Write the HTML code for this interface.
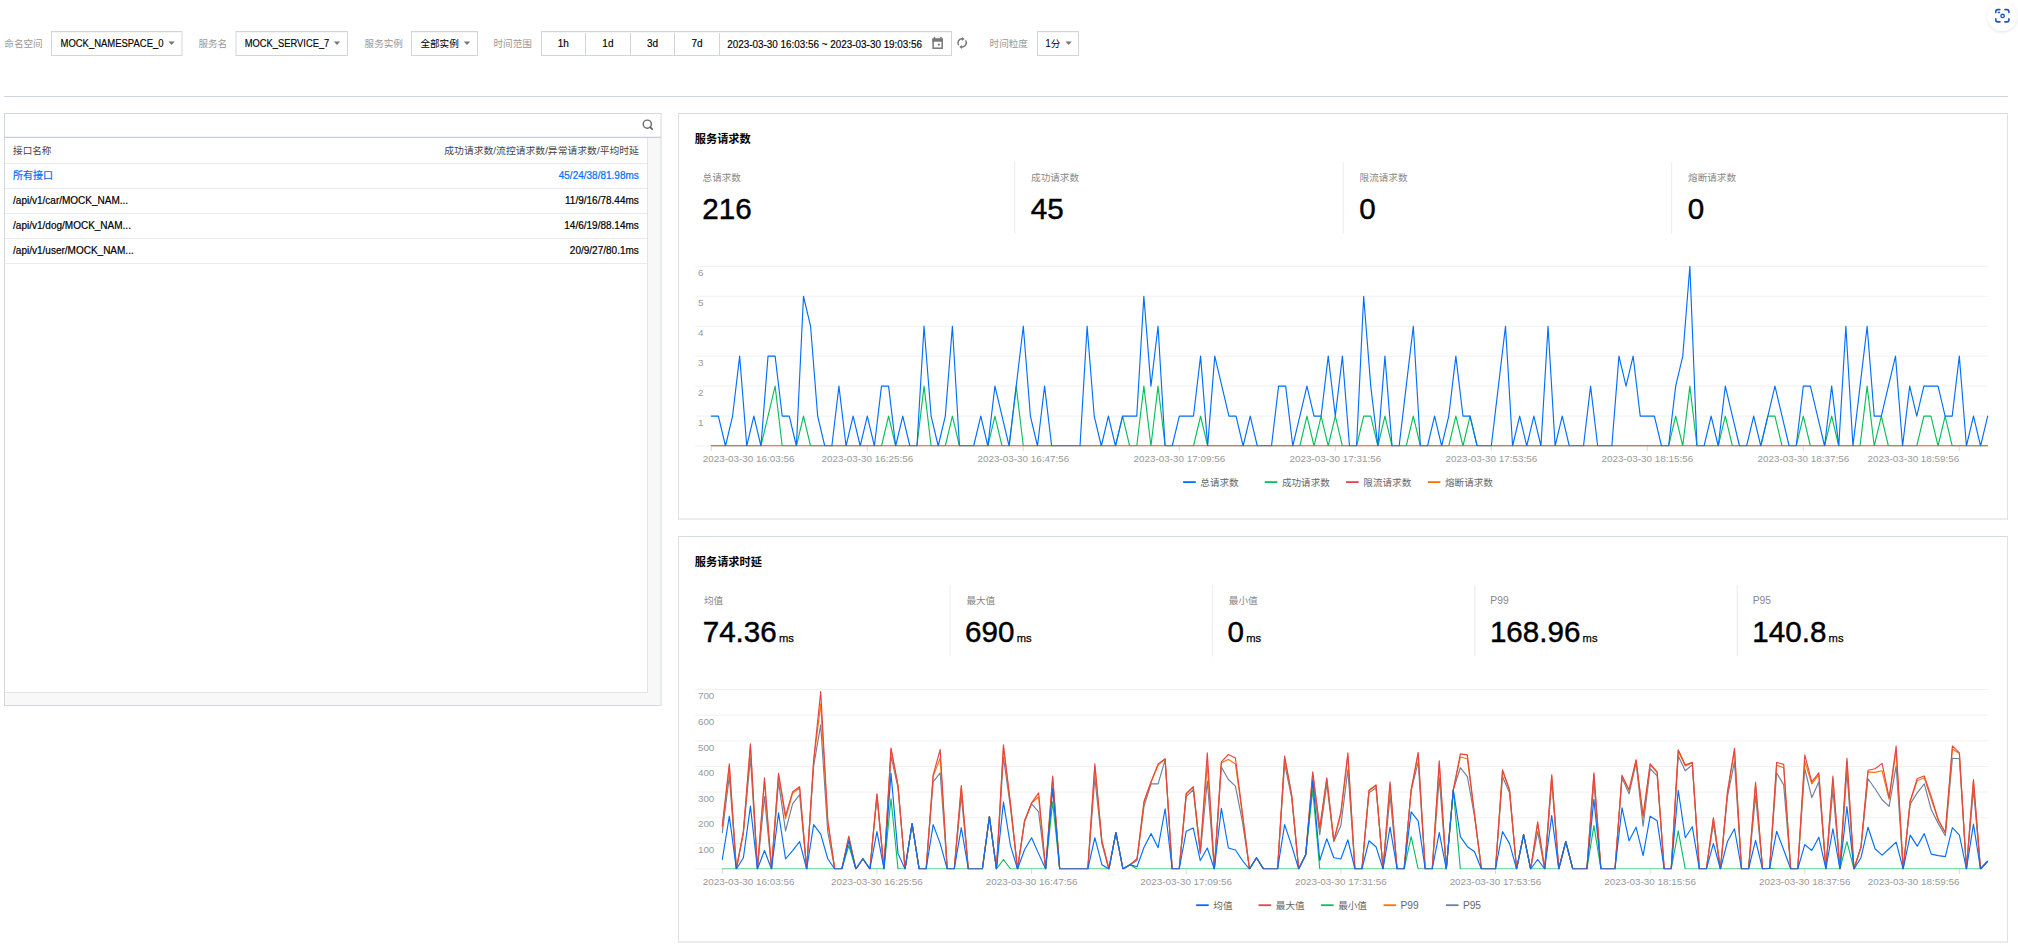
<!DOCTYPE html>
<html lang="zh-CN"><head><meta charset="utf-8"><title>服务监控</title>
<style>
html,body{margin:0;padding:0;background:#fff;}
body{width:2018px;height:952px;overflow:hidden;position:relative;font-family:"Liberation Sans", "Noto Sans CJK SC", sans-serif;}
svg text{font-family:"Liberation Sans", "Noto Sans CJK SC", sans-serif;}
</style></head><body>
<svg width="2018" height="952" viewBox="0 0 2018 952" style="position:absolute;left:0;top:0"><defs><filter id="sh" x="-50%" y="-50%" width="200%" height="200%"><feDropShadow dx="0" dy="1" stdDeviation="1.6" flood-color="#000" flood-opacity="0.13"/></filter></defs><text x="4.3" y="47.0" style="font-size:9.6px;fill:#999;">命名空间</text>
<rect x="51.5" y="31.5" width="130.5" height="24.0" fill="#fff" stroke="#cfd5de" stroke-width="1"/>
<text x="60.5" y="46.5" textLength="103.0" lengthAdjust="spacingAndGlyphs" style="font-size:10px;fill:#000;" stroke="#000" stroke-width="0.15">MOCK_NAMESPACE_0</text>
<path d="M168.4,41.6 L174.79999999999998,41.6 L171.6,45.0 Z" fill="#777"/>
<text x="198.4" y="47.0" style="font-size:9.6px;fill:#999;">服务名</text>
<rect x="236.0" y="31.5" width="111.5" height="24.0" fill="#fff" stroke="#cfd5de" stroke-width="1"/>
<text x="244.7" y="46.5" textLength="84.6" lengthAdjust="spacingAndGlyphs" style="font-size:10px;fill:#000;" stroke="#000" stroke-width="0.15">MOCK_SERVICE_7</text>
<path d="M333.8,41.6 L340.2,41.6 L337.0,45.0 Z" fill="#777"/>
<text x="364.6" y="47.0" style="font-size:9.6px;fill:#999;">服务实例</text>
<rect x="411.5" y="31.5" width="66.0" height="24.0" fill="#fff" stroke="#cfd5de" stroke-width="1"/>
<text x="420.4" y="47.0" style="font-size:9.6px;fill:#000;">全部实例</text>
<path d="M463.8,41.6 L470.2,41.6 L467.0,45.0 Z" fill="#777"/>
<text x="493.5" y="47.0" style="font-size:9.6px;fill:#999;">时间范围</text>
<rect x="541.5" y="31.5" width="410.0" height="24.0" fill="#fff" stroke="#cfd5de" stroke-width="1"/>
<line x1="585.5" y1="31.5" x2="585.5" y2="55.5" stroke="#cfd5de" stroke-width="1"/>
<line x1="630.5" y1="31.5" x2="630.5" y2="55.5" stroke="#cfd5de" stroke-width="1"/>
<line x1="674.5" y1="31.5" x2="674.5" y2="55.5" stroke="#cfd5de" stroke-width="1"/>
<line x1="719.5" y1="31.5" x2="719.5" y2="55.5" stroke="#cfd5de" stroke-width="1"/>
<text x="563.3" y="46.5" text-anchor="middle" style="font-size:10px;fill:#000;" stroke="#000" stroke-width="0.15">1h</text>
<text x="607.9" y="46.5" text-anchor="middle" style="font-size:10px;fill:#000;" stroke="#000" stroke-width="0.15">1d</text>
<text x="652.5" y="46.5" text-anchor="middle" style="font-size:10px;fill:#000;" stroke="#000" stroke-width="0.15">3d</text>
<text x="697.0" y="46.5" text-anchor="middle" style="font-size:10px;fill:#000;" stroke="#000" stroke-width="0.15">7d</text>
<text x="727.3" y="47.5" textLength="194.8" lengthAdjust="spacingAndGlyphs" style="font-size:10px;fill:#000;" stroke="#000" stroke-width="0.15">2023-03-30 16:03:56 ~ 2023-03-30 19:03:56</text>
<g fill="none" stroke="#777" stroke-width="1.5"><rect x="933.1" y="39.2" width="9.1" height="9.0"/></g><rect x="932.4" y="38.5" width="10.5" height="3.2" fill="#777"/><rect x="933.7" y="36.8" width="1.5" height="2" fill="#777"/><rect x="940.2" y="36.8" width="1.5" height="2" fill="#777"/><circle cx="938.9" cy="44.6" r="1.05" fill="#777"/>
<g fill="none" stroke="#777" stroke-width="1.5"><path d="M958.6,45.2 A4.2,4.2 0 0 1 962.3,38.8"/><path d="M965.6,40.4 A4.2,4.2 0 0 1 961.7,46.9"/></g><path d="M962.0,36.9 L964.6,38.9 L962.0,40.9 Z" fill="#777"/><path d="M962.0,44.9 L959.4,46.9 L962.0,48.9 Z" fill="#777"/>
<text x="989.6" y="47.0" style="font-size:9.6px;fill:#999;">时间粒度</text>
<rect x="1037.5" y="31.5" width="41.0" height="24.0" fill="#fff" stroke="#cfd5de" stroke-width="1"/>
<text x="1045.2" y="46.9" style="font-size:9.6px;fill:#000"><tspan style="font-size:10px">1</tspan>分</text>
<path d="M1065.3999999999999,41.6 L1071.8,41.6 L1068.6,45.0 Z" fill="#777"/>
<line x1="52" y1="32.5" x2="182" y2="32.5" stroke="#f4f5f7" stroke-width="1"/>
<line x1="236.5" y1="32.5" x2="347.5" y2="32.5" stroke="#f4f5f7" stroke-width="1"/>
<line x1="412" y1="32.5" x2="477" y2="32.5" stroke="#f4f5f7" stroke-width="1"/>
<line x1="542" y1="32.5" x2="951" y2="32.5" stroke="#f4f5f7" stroke-width="1"/>
<line x1="1038" y1="32.5" x2="1078" y2="32.5" stroke="#f4f5f7" stroke-width="1"/>
<line x1="4" y1="96.5" x2="2008" y2="96.5" stroke="#cfd5de" stroke-width="1"/>
<circle cx="2002.2" cy="16.4" r="14.6" fill="#fff" filter="url(#sh)"/>
<g fill="none" stroke="#1f55c2" stroke-width="1.6" stroke-linecap="round"><path d="M1995.8,12.6 V11.5 Q1995.8,9.6 1997.7,9.6 H1999.9"/><path d="M2004.9,9.6 H2007.0 Q2008.9,9.6 2008.9,11.5 V12.6"/><path d="M1995.8,18.9 V20.0 Q1995.8,21.9 1997.7,21.9 H1999.9"/><path d="M2004.9,21.9 H2007.0 Q2008.9,21.9 2008.9,20.0 V18.9"/><path d="M1998.4,12.5 H1999.4"/><circle cx="2002.6" cy="15.9" r="1.7" stroke-width="1.4"/></g>
<rect x="4.5" y="113.5" width="656.5" height="592.0" fill="#fff"/>
<rect x="647.5" y="138" width="13" height="567.5" fill="#f8f8f8"/>
<rect x="5" y="692.5" width="655.5" height="12.5" fill="#f8f8f8"/>
<line x1="647.5" y1="138" x2="647.5" y2="693" stroke="#e4e4e4" stroke-width="1"/>
<line x1="5" y1="692.5" x2="647.5" y2="692.5" stroke="#e4e4e4" stroke-width="1"/>
<rect x="4.5" y="113.5" width="656.5" height="592.0" fill="none" stroke="#d3d8e0" stroke-width="1"/>
<line x1="4.5" y1="137.4" x2="661" y2="137.4" stroke="#c6ccd6" stroke-width="1.2"/>
<g fill="none" stroke="#6b6b6b" stroke-width="1.45"><circle cx="647.3" cy="124.2" r="4.05"/><path d="M650.2,127.1 L652.2,129.1" stroke-linecap="round" stroke-width="1.9"/></g>
<line x1="5" y1="163.5" x2="647" y2="163.5" stroke="#e8ebf0" stroke-width="1"/>
<line x1="5" y1="188.5" x2="647" y2="188.5" stroke="#e8ebf0" stroke-width="1"/>
<line x1="5" y1="213.5" x2="647" y2="213.5" stroke="#e8ebf0" stroke-width="1"/>
<line x1="5" y1="238.5" x2="647" y2="238.5" stroke="#e8ebf0" stroke-width="1"/>
<line x1="5" y1="263.5" x2="647" y2="263.5" stroke="#e8ebf0" stroke-width="1"/>
<text x="13.1" y="154.0" style="font-size:9.6px;fill:#444;">接口名称</text>
<text x="444.3" y="154.0" textLength="194.6" lengthAdjust="spacingAndGlyphs" style="font-size:9.6px;fill:#444;">成功请求数/流控请求数/异常请求数/平均时延</text>
<text x="13.1" y="179.0" style="font-size:10px;fill:#006eff;" stroke="#006eff" stroke-width="0.2">所有接口</text>
<text x="638.8" y="179.0" text-anchor="end" style="font-size:10px;fill:#006eff;" stroke="#006eff" stroke-width="0.2">45/24/38/81.98ms</text>
<text x="13.1" y="204.0" style="font-size:10px;fill:#000;" stroke="#000" stroke-width="0.2">/api/v1/car/MOCK_NAM...</text>
<text x="638.8" y="204.0" text-anchor="end" style="font-size:10px;fill:#000;" stroke="#000" stroke-width="0.2">11/9/16/78.44ms</text>
<text x="13.1" y="229.0" style="font-size:10px;fill:#000;" stroke="#000" stroke-width="0.2">/api/v1/dog/MOCK_NAM...</text>
<text x="638.8" y="229.0" text-anchor="end" style="font-size:10px;fill:#000;" stroke="#000" stroke-width="0.2">14/6/19/88.14ms</text>
<text x="13.1" y="254.0" style="font-size:10px;fill:#000;" stroke="#000" stroke-width="0.2">/api/v1/user/MOCK_NAM...</text>
<text x="638.8" y="254.0" text-anchor="end" style="font-size:10px;fill:#000;" stroke="#000" stroke-width="0.2">20/9/27/80.1ms</text>
<rect x="678.5" y="113.5" width="1329" height="405.5" fill="#fff"/>
<line x1="678" y1="113.5" x2="2008" y2="113.5" stroke="#d5dae3" stroke-width="1"/>
<line x1="678" y1="519" x2="2008" y2="519" stroke="#d5dae3" stroke-width="1"/>
<line x1="678.5" y1="113" x2="678.5" y2="519.5" stroke="#dee2e8" stroke-width="1"/>
<line x1="2007.5" y1="113" x2="2007.5" y2="519.5" stroke="#dee2e8" stroke-width="1"/>
<rect x="678.5" y="536.5" width="1329" height="405.5" fill="#fff"/>
<line x1="678" y1="536.5" x2="2008" y2="536.5" stroke="#d5dae3" stroke-width="1"/>
<line x1="678" y1="942" x2="2008" y2="942" stroke="#d5dae3" stroke-width="1"/>
<line x1="678.5" y1="536" x2="678.5" y2="942.5" stroke="#dee2e8" stroke-width="1"/>
<line x1="2007.5" y1="536" x2="2007.5" y2="942.5" stroke="#dee2e8" stroke-width="1"/>
<text x="694.8" y="143.3" style="font-size:11.2px;fill:#000;font-weight:bold;">服务请求数</text>
<text x="702.6" y="181.3" style="font-size:9.6px;fill:#888;">总请求数</text>
<text x="702.3000000000001" y="219.0" style="font-size:29.6px;fill:#000;" stroke="#000" stroke-width="0.45">216</text>
<line x1="1014.7" y1="162" x2="1014.7" y2="233.5" stroke="#e9ecf2" stroke-width="1"/>
<text x="1031.1000000000001" y="181.3" style="font-size:9.6px;fill:#888;">成功请求数</text>
<text x="1030.8000000000002" y="219.0" style="font-size:29.6px;fill:#000;" stroke="#000" stroke-width="0.45">45</text>
<line x1="1343.2" y1="162" x2="1343.2" y2="233.5" stroke="#e9ecf2" stroke-width="1"/>
<text x="1359.6000000000001" y="181.3" style="font-size:9.6px;fill:#888;">限流请求数</text>
<text x="1359.3000000000002" y="219.0" style="font-size:29.6px;fill:#000;" stroke="#000" stroke-width="0.45">0</text>
<line x1="1671.7" y1="162" x2="1671.7" y2="233.5" stroke="#e9ecf2" stroke-width="1"/>
<text x="1688.1000000000001" y="181.3" style="font-size:9.6px;fill:#888;">熔断请求数</text>
<text x="1687.8000000000002" y="219.0" style="font-size:29.6px;fill:#000;" stroke="#000" stroke-width="0.45">0</text>
<text x="694.8" y="566.3" style="font-size:11.2px;fill:#000;font-weight:bold;">服务请求时延</text>
<text x="704.0" y="604.3" style="font-size:9.6px;fill:#888;">均值</text>
<text x="702.70" y="642.00" style="font-size:29.6px;fill:#000;stroke:#000;stroke-width:0.45px">74.36<tspan dx="2.2" style="font-size:11.2px;stroke-width:0.25px">ms</tspan></text>
<line x1="950.0" y1="585" x2="950.0" y2="656.5" stroke="#e9ecf2" stroke-width="1"/>
<text x="966.4" y="604.3" style="font-size:9.6px;fill:#888;">最大值</text>
<text x="965.10" y="642.00" style="font-size:29.6px;fill:#000;stroke:#000;stroke-width:0.45px">690<tspan dx="2.2" style="font-size:11.2px;stroke-width:0.25px">ms</tspan></text>
<line x1="1212.4" y1="585" x2="1212.4" y2="656.5" stroke="#e9ecf2" stroke-width="1"/>
<text x="1228.8000000000002" y="604.3" style="font-size:9.6px;fill:#888;">最小值</text>
<text x="1227.50" y="642.00" style="font-size:29.6px;fill:#000;stroke:#000;stroke-width:0.45px">0<tspan dx="2.2" style="font-size:11.2px;stroke-width:0.25px">ms</tspan></text>
<line x1="1474.8" y1="585" x2="1474.8" y2="656.5" stroke="#e9ecf2" stroke-width="1"/>
<text x="1490.3" y="604.3" style="font-size:10.3px;fill:#888;">P99</text>
<text x="1489.90" y="642.00" style="font-size:29.6px;fill:#000;stroke:#000;stroke-width:0.45px">168.96<tspan dx="2.2" style="font-size:11.2px;stroke-width:0.25px">ms</tspan></text>
<line x1="1737.1999999999998" y1="585" x2="1737.1999999999998" y2="656.5" stroke="#e9ecf2" stroke-width="1"/>
<text x="1752.6999999999998" y="604.3" style="font-size:10.3px;fill:#888;">P95</text>
<text x="1752.30" y="642.00" style="font-size:29.6px;fill:#000;stroke:#000;stroke-width:0.45px">140.8<tspan dx="2.2" style="font-size:11.2px;stroke-width:0.25px">ms</tspan></text>
<line x1="695" y1="446.0" x2="1987.68" y2="446.0" stroke="#f1f1f1" stroke-width="1"/>
<line x1="695" y1="416.05" x2="1987.68" y2="416.05" stroke="#f1f1f1" stroke-width="1"/>
<text x="697.9" y="425.75" style="font-size:9.9px;fill:#999;">1</text>
<line x1="695" y1="386.1" x2="1987.68" y2="386.1" stroke="#f1f1f1" stroke-width="1"/>
<text x="697.9" y="395.8" style="font-size:9.9px;fill:#999;">2</text>
<line x1="695" y1="356.15" x2="1987.68" y2="356.15" stroke="#f1f1f1" stroke-width="1"/>
<text x="697.9" y="365.84999999999997" style="font-size:9.9px;fill:#999;">3</text>
<line x1="695" y1="326.2" x2="1987.68" y2="326.2" stroke="#f1f1f1" stroke-width="1"/>
<text x="697.9" y="335.9" style="font-size:9.9px;fill:#999;">4</text>
<line x1="695" y1="296.25" x2="1987.68" y2="296.25" stroke="#f1f1f1" stroke-width="1"/>
<text x="697.9" y="305.95" style="font-size:9.9px;fill:#999;">5</text>
<line x1="695" y1="266.3" x2="1987.68" y2="266.3" stroke="#f1f1f1" stroke-width="1"/>
<text x="697.9" y="276.0" style="font-size:9.9px;fill:#999;">6</text>
<line x1="711.3" y1="446.0" x2="711.3" y2="451.0" stroke="#ddd" stroke-width="1"/>
<line x1="867.3019999999999" y1="446.0" x2="867.3019999999999" y2="451.0" stroke="#ddd" stroke-width="1"/>
<line x1="1023.304" y1="446.0" x2="1023.304" y2="451.0" stroke="#ddd" stroke-width="1"/>
<line x1="1179.306" y1="446.0" x2="1179.306" y2="451.0" stroke="#ddd" stroke-width="1"/>
<line x1="1335.308" y1="446.0" x2="1335.308" y2="451.0" stroke="#ddd" stroke-width="1"/>
<line x1="1491.31" y1="446.0" x2="1491.31" y2="451.0" stroke="#ddd" stroke-width="1"/>
<line x1="1647.312" y1="446.0" x2="1647.312" y2="451.0" stroke="#ddd" stroke-width="1"/>
<line x1="1803.314" y1="446.0" x2="1803.314" y2="451.0" stroke="#ddd" stroke-width="1"/>
<line x1="1959.316" y1="446.0" x2="1959.316" y2="451.0" stroke="#ddd" stroke-width="1"/>
<text x="702.8" y="462.3" style="font-size:9.9px;fill:#999;">2023-03-30 16:03:56</text>
<text x="867.3019999999999" y="462.3" text-anchor="middle" style="font-size:9.9px;fill:#999;">2023-03-30 16:25:56</text>
<text x="1023.304" y="462.3" text-anchor="middle" style="font-size:9.9px;fill:#999;">2023-03-30 16:47:56</text>
<text x="1179.306" y="462.3" text-anchor="middle" style="font-size:9.9px;fill:#999;">2023-03-30 17:09:56</text>
<text x="1335.308" y="462.3" text-anchor="middle" style="font-size:9.9px;fill:#999;">2023-03-30 17:31:56</text>
<text x="1491.31" y="462.3" text-anchor="middle" style="font-size:9.9px;fill:#999;">2023-03-30 17:53:56</text>
<text x="1647.312" y="462.3" text-anchor="middle" style="font-size:9.9px;fill:#999;">2023-03-30 18:15:56</text>
<text x="1803.314" y="462.3" text-anchor="middle" style="font-size:9.9px;fill:#999;">2023-03-30 18:37:56</text>
<text x="1959.316" y="462.3" text-anchor="end" style="font-size:9.9px;fill:#999;">2023-03-30 18:59:56</text>
<clipPath id="c446"><rect x="690" y="246.3" width="1310" height="199.95"/></clipPath>
<g clip-path="url(#c446)">
<polyline points="711.30,446.00 718.39,446.00 725.48,446.00 732.57,446.00 739.66,446.00 746.75,446.00 753.85,446.00 760.94,446.00 768.03,446.00 775.12,446.00 782.21,446.00 789.30,446.00 796.39,446.00 803.48,446.00 810.57,446.00 817.66,446.00 824.76,446.00 831.85,446.00 838.94,446.00 846.03,446.00 853.12,446.00 860.21,446.00 867.30,446.00 874.39,446.00 881.48,446.00 888.57,446.00 895.67,446.00 902.76,446.00 909.85,446.00 916.94,446.00 924.03,446.00 931.12,446.00 938.21,446.00 945.30,446.00 952.39,446.00 959.48,446.00 966.58,446.00 973.67,446.00 980.76,446.00 987.85,446.00 994.94,446.00 1002.03,446.00 1009.12,446.00 1016.21,446.00 1023.30,446.00 1030.39,446.00 1037.49,446.00 1044.58,446.00 1051.67,446.00 1058.76,446.00 1065.85,446.00 1072.94,446.00 1080.03,446.00 1087.12,446.00 1094.21,446.00 1101.30,446.00 1108.40,446.00 1115.49,446.00 1122.58,446.00 1129.67,446.00 1136.76,446.00 1143.85,446.00 1150.94,446.00 1158.03,446.00 1165.12,446.00 1172.21,446.00 1179.31,446.00 1186.40,446.00 1193.49,446.00 1200.58,446.00 1207.67,446.00 1214.76,446.00 1221.85,446.00 1228.94,446.00 1236.03,446.00 1243.12,446.00 1250.22,446.00 1257.31,446.00 1264.40,446.00 1271.49,446.00 1278.58,446.00 1285.67,446.00 1292.76,446.00 1299.85,446.00 1306.94,446.00 1314.03,446.00 1321.13,446.00 1328.22,446.00 1335.31,446.00 1342.40,446.00 1349.49,446.00 1356.58,446.00 1363.67,446.00 1370.76,446.00 1377.85,446.00 1384.94,446.00 1392.04,446.00 1399.13,446.00 1406.22,446.00 1413.31,446.00 1420.40,446.00 1427.49,446.00 1434.58,446.00 1441.67,446.00 1448.76,446.00 1455.86,446.00 1462.95,446.00 1470.04,446.00 1477.13,446.00 1484.22,446.00 1491.31,446.00 1498.40,446.00 1505.49,446.00 1512.58,446.00 1519.67,446.00 1526.76,446.00 1533.86,446.00 1540.95,446.00 1548.04,446.00 1555.13,446.00 1562.22,446.00 1569.31,446.00 1576.40,446.00 1583.49,446.00 1590.58,446.00 1597.67,446.00 1604.77,446.00 1611.86,446.00 1618.95,446.00 1626.04,446.00 1633.13,446.00 1640.22,446.00 1647.31,446.00 1654.40,446.00 1661.49,446.00 1668.59,446.00 1675.68,446.00 1682.77,446.00 1689.86,446.00 1696.95,446.00 1704.04,446.00 1711.13,446.00 1718.22,446.00 1725.31,446.00 1732.40,446.00 1739.49,446.00 1746.59,446.00 1753.68,446.00 1760.77,446.00 1767.86,446.00 1774.95,446.00 1782.04,446.00 1789.13,446.00 1796.22,446.00 1803.31,446.00 1810.40,446.00 1817.50,446.00 1824.59,446.00 1831.68,446.00 1838.77,446.00 1845.86,446.00 1852.95,446.00 1860.04,446.00 1867.13,446.00 1874.22,446.00 1881.32,446.00 1888.41,446.00 1895.50,446.00 1902.59,446.00 1909.68,446.00 1916.77,446.00 1923.86,446.00 1930.95,446.00 1938.04,446.00 1945.13,446.00 1952.22,446.00 1959.32,446.00 1966.41,446.00 1973.50,446.00 1980.59,446.00 1987.68,446.00" fill="none" stroke="#ff7200" stroke-width="1.15" stroke-linejoin="round" stroke-linecap="round"/>
<polyline points="711.30,446.00 718.39,446.00 725.48,446.00 732.57,446.00 739.66,446.00 746.75,446.00 753.85,446.00 760.94,446.00 768.03,446.00 775.12,446.00 782.21,446.00 789.30,446.00 796.39,446.00 803.48,446.00 810.57,446.00 817.66,446.00 824.76,446.00 831.85,446.00 838.94,446.00 846.03,446.00 853.12,446.00 860.21,446.00 867.30,446.00 874.39,446.00 881.48,446.00 888.57,446.00 895.67,446.00 902.76,446.00 909.85,446.00 916.94,446.00 924.03,446.00 931.12,446.00 938.21,446.00 945.30,446.00 952.39,446.00 959.48,446.00 966.58,446.00 973.67,446.00 980.76,446.00 987.85,446.00 994.94,446.00 1002.03,446.00 1009.12,446.00 1016.21,446.00 1023.30,446.00 1030.39,446.00 1037.49,446.00 1044.58,446.00 1051.67,446.00 1058.76,446.00 1065.85,446.00 1072.94,446.00 1080.03,446.00 1087.12,446.00 1094.21,446.00 1101.30,446.00 1108.40,446.00 1115.49,446.00 1122.58,446.00 1129.67,446.00 1136.76,446.00 1143.85,446.00 1150.94,446.00 1158.03,446.00 1165.12,446.00 1172.21,446.00 1179.31,446.00 1186.40,446.00 1193.49,446.00 1200.58,446.00 1207.67,446.00 1214.76,446.00 1221.85,446.00 1228.94,446.00 1236.03,446.00 1243.12,446.00 1250.22,446.00 1257.31,446.00 1264.40,446.00 1271.49,446.00 1278.58,446.00 1285.67,446.00 1292.76,446.00 1299.85,446.00 1306.94,446.00 1314.03,446.00 1321.13,446.00 1328.22,446.00 1335.31,446.00 1342.40,446.00 1349.49,446.00 1356.58,446.00 1363.67,446.00 1370.76,446.00 1377.85,446.00 1384.94,446.00 1392.04,446.00 1399.13,446.00 1406.22,446.00 1413.31,446.00 1420.40,446.00 1427.49,446.00 1434.58,446.00 1441.67,446.00 1448.76,446.00 1455.86,446.00 1462.95,446.00 1470.04,446.00 1477.13,446.00 1484.22,446.00 1491.31,446.00 1498.40,446.00 1505.49,446.00 1512.58,446.00 1519.67,446.00 1526.76,446.00 1533.86,446.00 1540.95,446.00 1548.04,446.00 1555.13,446.00 1562.22,446.00 1569.31,446.00 1576.40,446.00 1583.49,446.00 1590.58,446.00 1597.67,446.00 1604.77,446.00 1611.86,446.00 1618.95,446.00 1626.04,446.00 1633.13,446.00 1640.22,446.00 1647.31,446.00 1654.40,446.00 1661.49,446.00 1668.59,446.00 1675.68,446.00 1682.77,446.00 1689.86,446.00 1696.95,446.00 1704.04,446.00 1711.13,446.00 1718.22,446.00 1725.31,446.00 1732.40,446.00 1739.49,446.00 1746.59,446.00 1753.68,446.00 1760.77,446.00 1767.86,446.00 1774.95,446.00 1782.04,446.00 1789.13,446.00 1796.22,446.00 1803.31,446.00 1810.40,446.00 1817.50,446.00 1824.59,446.00 1831.68,446.00 1838.77,446.00 1845.86,446.00 1852.95,446.00 1860.04,446.00 1867.13,446.00 1874.22,446.00 1881.32,446.00 1888.41,446.00 1895.50,446.00 1902.59,446.00 1909.68,446.00 1916.77,446.00 1923.86,446.00 1930.95,446.00 1938.04,446.00 1945.13,446.00 1952.22,446.00 1959.32,446.00 1966.41,446.00 1973.50,446.00 1980.59,446.00 1987.68,446.00" fill="none" stroke="#e54545" stroke-width="1.15" stroke-linejoin="round" stroke-linecap="round"/>
<polyline points="711.30,446.00 718.39,446.00 725.48,446.00 732.57,446.00 739.66,446.00 746.75,446.00 753.85,446.00 760.94,446.00 768.03,416.05 775.12,386.10 782.21,446.00 789.30,446.00 796.39,446.00 803.48,416.05 810.57,446.00 817.66,446.00 824.76,446.00 831.85,446.00 838.94,446.00 846.03,446.00 853.12,446.00 860.21,446.00 867.30,446.00 874.39,446.00 881.48,446.00 888.57,416.05 895.67,446.00 902.76,446.00 909.85,446.00 916.94,446.00 924.03,386.10 931.12,446.00 938.21,446.00 945.30,446.00 952.39,416.05 959.48,446.00 966.58,446.00 973.67,446.00 980.76,446.00 987.85,446.00 994.94,416.05 1002.03,446.00 1009.12,446.00 1016.21,386.10 1023.30,446.00 1030.39,446.00 1037.49,446.00 1044.58,446.00 1051.67,446.00 1058.76,446.00 1065.85,446.00 1072.94,446.00 1080.03,446.00 1087.12,446.00 1094.21,446.00 1101.30,446.00 1108.40,446.00 1115.49,446.00 1122.58,416.05 1129.67,446.00 1136.76,446.00 1143.85,386.10 1150.94,446.00 1158.03,386.10 1165.12,446.00 1172.21,446.00 1179.31,446.00 1186.40,446.00 1193.49,446.00 1200.58,416.05 1207.67,446.00 1214.76,446.00 1221.85,446.00 1228.94,446.00 1236.03,446.00 1243.12,446.00 1250.22,446.00 1257.31,446.00 1264.40,446.00 1271.49,446.00 1278.58,446.00 1285.67,446.00 1292.76,446.00 1299.85,446.00 1306.94,416.05 1314.03,446.00 1321.13,416.05 1328.22,446.00 1335.31,416.05 1342.40,446.00 1349.49,446.00 1356.58,446.00 1363.67,416.05 1370.76,416.05 1377.85,446.00 1384.94,416.05 1392.04,446.00 1399.13,446.00 1406.22,446.00 1413.31,416.05 1420.40,446.00 1427.49,446.00 1434.58,446.00 1441.67,446.00 1448.76,446.00 1455.86,416.05 1462.95,446.00 1470.04,416.05 1477.13,446.00 1484.22,446.00 1491.31,446.00 1498.40,446.00 1505.49,446.00 1512.58,446.00 1519.67,446.00 1526.76,446.00 1533.86,446.00 1540.95,446.00 1548.04,446.00 1555.13,446.00 1562.22,446.00 1569.31,446.00 1576.40,446.00 1583.49,446.00 1590.58,446.00 1597.67,446.00 1604.77,446.00 1611.86,446.00 1618.95,446.00 1626.04,446.00 1633.13,446.00 1640.22,446.00 1647.31,446.00 1654.40,446.00 1661.49,446.00 1668.59,446.00 1675.68,416.05 1682.77,446.00 1689.86,386.10 1696.95,446.00 1704.04,446.00 1711.13,446.00 1718.22,446.00 1725.31,416.05 1732.40,446.00 1739.49,446.00 1746.59,446.00 1753.68,446.00 1760.77,446.00 1767.86,416.05 1774.95,416.05 1782.04,446.00 1789.13,446.00 1796.22,446.00 1803.31,416.05 1810.40,446.00 1817.50,446.00 1824.59,446.00 1831.68,416.05 1838.77,446.00 1845.86,446.00 1852.95,446.00 1860.04,446.00 1867.13,386.10 1874.22,446.00 1881.32,416.05 1888.41,446.00 1895.50,446.00 1902.59,446.00 1909.68,446.00 1916.77,446.00 1923.86,416.05 1930.95,416.05 1938.04,446.00 1945.13,416.05 1952.22,446.00 1959.32,446.00 1966.41,446.00 1973.50,446.00 1980.59,446.00 1987.68,446.00" fill="none" stroke="#0abf5b" stroke-width="1.15" stroke-linejoin="round" stroke-linecap="round"/>
<polyline points="711.30,416.05 718.39,416.05 725.48,446.00 732.57,416.05 739.66,356.15 746.75,446.00 753.85,416.05 760.94,446.00 768.03,356.15 775.12,356.15 782.21,416.05 789.30,416.05 796.39,446.00 803.48,296.25 810.57,326.20 817.66,416.05 824.76,446.00 831.85,446.00 838.94,386.10 846.03,446.00 853.12,416.05 860.21,446.00 867.30,416.05 874.39,446.00 881.48,386.10 888.57,386.10 895.67,446.00 902.76,416.05 909.85,446.00 916.94,446.00 924.03,326.20 931.12,416.05 938.21,446.00 945.30,416.05 952.39,326.20 959.48,446.00 966.58,446.00 973.67,446.00 980.76,416.05 987.85,446.00 994.94,386.10 1002.03,416.05 1009.12,446.00 1016.21,386.10 1023.30,326.20 1030.39,416.05 1037.49,446.00 1044.58,386.10 1051.67,446.00 1058.76,446.00 1065.85,446.00 1072.94,446.00 1080.03,446.00 1087.12,326.20 1094.21,416.05 1101.30,446.00 1108.40,416.05 1115.49,446.00 1122.58,416.05 1129.67,416.05 1136.76,416.05 1143.85,296.25 1150.94,386.10 1158.03,326.20 1165.12,446.00 1172.21,446.00 1179.31,416.05 1186.40,416.05 1193.49,416.05 1200.58,356.15 1207.67,446.00 1214.76,356.15 1221.85,386.10 1228.94,416.05 1236.03,416.05 1243.12,446.00 1250.22,416.05 1257.31,446.00 1264.40,446.00 1271.49,446.00 1278.58,386.10 1285.67,386.10 1292.76,446.00 1299.85,416.05 1306.94,386.10 1314.03,416.05 1321.13,416.05 1328.22,356.15 1335.31,416.05 1342.40,356.15 1349.49,446.00 1356.58,446.00 1363.67,296.25 1370.76,386.10 1377.85,446.00 1384.94,356.15 1392.04,446.00 1399.13,446.00 1406.22,386.10 1413.31,326.20 1420.40,446.00 1427.49,446.00 1434.58,416.05 1441.67,446.00 1448.76,416.05 1455.86,356.15 1462.95,416.05 1470.04,416.05 1477.13,446.00 1484.22,446.00 1491.31,446.00 1498.40,386.10 1505.49,326.20 1512.58,446.00 1519.67,416.05 1526.76,446.00 1533.86,416.05 1540.95,446.00 1548.04,326.20 1555.13,446.00 1562.22,416.05 1569.31,446.00 1576.40,446.00 1583.49,446.00 1590.58,386.10 1597.67,446.00 1604.77,446.00 1611.86,446.00 1618.95,356.15 1626.04,386.10 1633.13,356.15 1640.22,416.05 1647.31,416.05 1654.40,416.05 1661.49,446.00 1668.59,446.00 1675.68,386.10 1682.77,356.15 1689.86,266.30 1696.95,446.00 1704.04,446.00 1711.13,416.05 1718.22,446.00 1725.31,386.10 1732.40,416.05 1739.49,446.00 1746.59,446.00 1753.68,416.05 1760.77,446.00 1767.86,416.05 1774.95,386.10 1782.04,416.05 1789.13,446.00 1796.22,446.00 1803.31,386.10 1810.40,386.10 1817.50,416.05 1824.59,446.00 1831.68,386.10 1838.77,446.00 1845.86,326.20 1852.95,446.00 1860.04,386.10 1867.13,326.20 1874.22,416.05 1881.32,416.05 1888.41,386.10 1895.50,356.15 1902.59,446.00 1909.68,386.10 1916.77,416.05 1923.86,386.10 1930.95,386.10 1938.04,386.10 1945.13,416.05 1952.22,416.05 1959.32,356.15 1966.41,446.00 1973.50,416.05 1980.59,446.00 1987.68,416.05" fill="none" stroke="#006eff" stroke-width="1.15" stroke-linejoin="round" stroke-linecap="round"/>
</g>
<line x1="695" y1="869.0" x2="1987.52" y2="869.0" stroke="#f1f1f1" stroke-width="1"/>
<line x1="695" y1="843.36" x2="1987.52" y2="843.36" stroke="#f1f1f1" stroke-width="1"/>
<text x="697.9" y="853.0600000000001" style="font-size:9.9px;fill:#999;">100</text>
<line x1="695" y1="817.72" x2="1987.52" y2="817.72" stroke="#f1f1f1" stroke-width="1"/>
<text x="697.9" y="827.4200000000001" style="font-size:9.9px;fill:#999;">200</text>
<line x1="695" y1="792.08" x2="1987.52" y2="792.08" stroke="#f1f1f1" stroke-width="1"/>
<text x="697.9" y="801.7800000000001" style="font-size:9.9px;fill:#999;">300</text>
<line x1="695" y1="766.44" x2="1987.52" y2="766.44" stroke="#f1f1f1" stroke-width="1"/>
<text x="697.9" y="776.1400000000001" style="font-size:9.9px;fill:#999;">400</text>
<line x1="695" y1="740.8" x2="1987.52" y2="740.8" stroke="#f1f1f1" stroke-width="1"/>
<text x="697.9" y="750.5" style="font-size:9.9px;fill:#999;">500</text>
<line x1="695" y1="715.16" x2="1987.52" y2="715.16" stroke="#f1f1f1" stroke-width="1"/>
<text x="697.9" y="724.86" style="font-size:9.9px;fill:#999;">600</text>
<line x1="695" y1="689.52" x2="1987.52" y2="689.52" stroke="#f1f1f1" stroke-width="1"/>
<text x="697.9" y="699.22" style="font-size:9.9px;fill:#999;">700</text>
<line x1="722.3" y1="869.0" x2="722.3" y2="874.0" stroke="#ddd" stroke-width="1"/>
<line x1="876.938" y1="869.0" x2="876.938" y2="874.0" stroke="#ddd" stroke-width="1"/>
<line x1="1031.576" y1="869.0" x2="1031.576" y2="874.0" stroke="#ddd" stroke-width="1"/>
<line x1="1186.214" y1="869.0" x2="1186.214" y2="874.0" stroke="#ddd" stroke-width="1"/>
<line x1="1340.8519999999999" y1="869.0" x2="1340.8519999999999" y2="874.0" stroke="#ddd" stroke-width="1"/>
<line x1="1495.4899999999998" y1="869.0" x2="1495.4899999999998" y2="874.0" stroke="#ddd" stroke-width="1"/>
<line x1="1650.128" y1="869.0" x2="1650.128" y2="874.0" stroke="#ddd" stroke-width="1"/>
<line x1="1804.7659999999998" y1="869.0" x2="1804.7659999999998" y2="874.0" stroke="#ddd" stroke-width="1"/>
<line x1="1959.404" y1="869.0" x2="1959.404" y2="874.0" stroke="#ddd" stroke-width="1"/>
<text x="702.8" y="885.3" style="font-size:9.9px;fill:#999;">2023-03-30 16:03:56</text>
<text x="876.938" y="885.3" text-anchor="middle" style="font-size:9.9px;fill:#999;">2023-03-30 16:25:56</text>
<text x="1031.576" y="885.3" text-anchor="middle" style="font-size:9.9px;fill:#999;">2023-03-30 16:47:56</text>
<text x="1186.214" y="885.3" text-anchor="middle" style="font-size:9.9px;fill:#999;">2023-03-30 17:09:56</text>
<text x="1340.8519999999999" y="885.3" text-anchor="middle" style="font-size:9.9px;fill:#999;">2023-03-30 17:31:56</text>
<text x="1495.4899999999998" y="885.3" text-anchor="middle" style="font-size:9.9px;fill:#999;">2023-03-30 17:53:56</text>
<text x="1650.128" y="885.3" text-anchor="middle" style="font-size:9.9px;fill:#999;">2023-03-30 18:15:56</text>
<text x="1804.7659999999998" y="885.3" text-anchor="middle" style="font-size:9.9px;fill:#999;">2023-03-30 18:37:56</text>
<text x="1959.404" y="885.3" text-anchor="end" style="font-size:9.9px;fill:#999;">2023-03-30 18:59:56</text>
<clipPath id="c869"><rect x="690" y="669.52" width="1310" height="199.73000000000002"/></clipPath>
<g clip-path="url(#c869)">
<polyline points="722.30,832.59 729.33,775.93 736.36,869.00 743.39,833.10 750.42,757.98 757.44,869.00 764.47,796.70 771.50,869.00 778.53,781.82 785.56,830.80 792.59,803.87 799.62,794.64 806.65,869.00 813.68,765.93 820.71,724.90 827.73,831.57 834.76,869.00 841.79,869.00 848.82,839.51 855.85,869.00 862.88,858.74 869.91,869.00 876.94,797.21 883.97,869.00 891.00,755.93 898.02,787.72 905.05,869.00 912.08,823.62 919.11,869.00 926.14,869.00 933.17,781.82 940.20,772.85 947.23,869.00 954.26,869.00 961.29,795.67 968.31,869.00 975.34,869.00 982.37,869.00 989.40,816.69 996.43,869.00 1003.46,756.95 1010.49,807.72 1017.52,869.00 1024.55,821.82 1031.58,803.87 1038.61,811.82 1045.63,869.00 1052.66,781.82 1059.69,869.00 1066.72,869.00 1073.75,869.00 1080.78,869.00 1087.81,869.00 1094.84,777.72 1101.87,843.62 1108.89,869.00 1115.92,832.59 1122.95,869.00 1129.98,864.64 1137.01,860.54 1144.04,806.18 1151.07,783.88 1158.10,783.88 1165.13,759.77 1172.16,869.00 1179.18,869.00 1186.21,796.70 1193.24,789.77 1200.27,853.62 1207.30,780.80 1214.33,869.00 1221.36,766.95 1228.39,779.52 1235.42,786.18 1242.45,821.82 1249.47,869.00 1256.50,857.72 1263.53,869.00 1270.56,869.00 1277.59,869.00 1284.62,763.88 1291.65,797.72 1298.68,869.00 1305.71,854.64 1312.74,779.26 1319.76,834.64 1326.79,783.88 1333.82,841.57 1340.85,825.67 1347.88,769.77 1354.91,869.00 1361.94,869.00 1368.97,792.85 1376.00,787.72 1383.03,869.00 1390.05,795.67 1397.08,869.00 1404.11,869.00 1411.14,790.80 1418.17,761.82 1425.20,869.00 1432.23,869.00 1439.26,777.72 1446.29,869.00 1453.32,789.77 1460.34,767.72 1467.37,776.70 1474.40,815.67 1481.43,869.00 1488.46,869.00 1495.49,869.00 1502.52,776.70 1509.55,792.85 1516.58,869.00 1523.61,834.64 1530.63,869.00 1537.66,831.57 1544.69,869.00 1551.72,781.82 1558.75,869.00 1565.78,841.57 1572.81,869.00 1579.84,869.00 1586.87,869.00 1593.90,781.82 1600.92,869.00 1607.95,869.00 1614.98,869.00 1622.01,777.72 1629.04,793.87 1636.07,762.85 1643.10,826.18 1650.13,768.75 1657.16,775.93 1664.19,869.00 1671.21,869.00 1678.24,755.93 1685.27,770.80 1692.30,764.90 1699.33,869.00 1706.36,869.00 1713.39,823.62 1720.42,869.00 1727.45,796.70 1734.48,761.82 1741.51,869.00 1748.53,869.00 1755.56,795.67 1762.59,869.00 1769.62,868.49 1776.65,772.85 1783.68,784.90 1790.71,869.00 1797.74,869.00 1804.77,768.75 1811.79,797.72 1818.82,781.82 1825.85,869.00 1832.88,789.77 1839.91,869.00 1846.94,771.82 1853.97,869.00 1861.00,847.46 1868.03,778.75 1875.06,788.75 1882.09,799.77 1889.11,806.44 1896.14,765.93 1903.17,869.00 1910.20,803.87 1917.23,792.85 1924.26,783.88 1931.29,809.77 1938.32,823.62 1945.35,835.67 1952.38,758.24 1959.40,758.75 1966.43,869.00 1973.46,789.77 1980.49,869.00 1987.52,861.31" fill="none" stroke="#6e7f9b" stroke-width="1.15" stroke-linejoin="round" stroke-linecap="round"/>
<polyline points="722.30,827.05 729.33,766.29 736.36,869.00 743.39,831.87 750.42,746.70 757.44,869.00 764.47,781.52 771.50,869.00 778.53,775.06 785.56,818.69 792.59,793.36 799.62,787.98 806.65,869.00 813.68,761.00 820.71,703.88 827.73,822.13 834.76,869.00 841.79,869.00 848.82,837.21 855.85,869.00 862.88,858.74 869.91,869.00 876.94,794.54 883.97,869.00 891.00,749.57 898.02,786.08 905.05,869.00 912.08,823.62 919.11,869.00 926.14,869.00 933.17,776.29 940.20,757.98 947.23,869.00 954.26,869.00 961.29,787.67 968.31,869.00 975.34,869.00 982.37,869.00 989.40,816.69 996.43,869.00 1003.46,747.31 1010.49,804.64 1017.52,869.00 1024.55,821.00 1031.58,803.05 1038.61,796.70 1045.63,869.00 1052.66,777.31 1059.69,869.00 1066.72,869.00 1073.75,869.00 1080.78,869.00 1087.81,869.00 1094.84,766.65 1101.87,841.36 1108.89,869.00 1115.92,832.59 1122.95,869.00 1129.98,864.64 1137.01,859.10 1144.04,802.28 1151.07,782.23 1158.10,765.16 1165.13,758.95 1172.16,869.00 1179.18,869.00 1186.21,794.03 1193.24,787.31 1200.27,851.98 1207.30,763.88 1214.33,869.00 1221.36,762.85 1228.39,759.52 1235.42,763.88 1242.45,815.26 1249.47,869.00 1256.50,857.72 1263.53,869.00 1270.56,869.00 1277.59,869.00 1284.62,757.72 1291.65,795.26 1298.68,869.00 1305.71,854.64 1312.74,773.31 1319.76,829.10 1326.79,778.95 1333.82,840.95 1340.85,814.59 1347.88,756.24 1354.91,869.00 1361.94,869.00 1368.97,790.80 1376.00,785.46 1383.03,869.00 1390.05,784.59 1397.08,869.00 1404.11,869.00 1411.14,789.98 1418.17,754.24 1425.20,869.00 1432.23,869.00 1439.26,764.18 1446.29,869.00 1453.32,789.77 1460.34,756.95 1467.37,758.75 1474.40,814.03 1481.43,869.00 1488.46,869.00 1495.49,869.00 1502.52,771.16 1509.55,790.39 1516.58,869.00 1523.61,834.64 1530.63,869.00 1537.66,823.77 1544.69,869.00 1551.72,776.29 1558.75,869.00 1565.78,841.57 1572.81,869.00 1579.84,869.00 1586.87,869.00 1593.90,774.64 1600.92,869.00 1607.95,869.00 1614.98,869.00 1622.01,775.88 1629.04,790.59 1636.07,760.39 1643.10,817.77 1650.13,764.85 1657.16,772.64 1664.19,869.00 1671.21,869.00 1678.24,751.00 1685.27,766.08 1692.30,762.85 1699.33,869.00 1706.36,869.00 1713.39,818.90 1720.42,869.00 1727.45,792.80 1734.48,750.95 1741.51,869.00 1748.53,869.00 1755.56,785.00 1762.59,869.00 1769.62,868.49 1776.65,765.16 1783.68,767.72 1790.71,869.00 1797.74,869.00 1804.77,761.31 1811.79,783.88 1818.82,774.64 1825.85,869.00 1832.88,778.90 1839.91,869.00 1846.94,760.95 1853.97,869.00 1861.00,846.85 1868.03,771.82 1875.06,772.34 1882.09,770.80 1889.11,799.26 1896.14,750.13 1903.17,869.00 1910.20,801.41 1917.23,780.80 1924.26,777.72 1931.29,799.31 1938.32,820.54 1945.35,833.21 1952.38,749.00 1959.40,753.62 1966.43,869.00 1973.46,781.57 1980.49,869.00 1987.52,861.31" fill="none" stroke="#ff7200" stroke-width="1.15" stroke-linejoin="round" stroke-linecap="round"/>
<polyline points="722.30,869.00 729.33,869.00 736.36,869.00 743.39,869.00 750.42,869.00 757.44,869.00 764.47,869.00 771.50,869.00 778.53,869.00 785.56,869.00 792.59,869.00 799.62,869.00 806.65,869.00 813.68,869.00 820.71,869.00 827.73,869.00 834.76,869.00 841.79,869.00 848.82,845.67 855.85,869.00 862.88,858.74 869.91,869.00 876.94,869.00 883.97,869.00 891.00,798.75 898.02,869.00 905.05,869.00 912.08,823.62 919.11,869.00 926.14,869.00 933.17,869.00 940.20,869.00 947.23,869.00 954.26,869.00 961.29,869.00 968.31,869.00 975.34,869.00 982.37,869.00 989.40,816.69 996.43,869.00 1003.46,859.51 1010.49,869.00 1017.52,869.00 1024.55,869.00 1031.58,869.00 1038.61,869.00 1045.63,869.00 1052.66,801.82 1059.69,869.00 1066.72,869.00 1073.75,869.00 1080.78,869.00 1087.81,869.00 1094.84,869.00 1101.87,869.00 1108.89,869.00 1115.92,832.59 1122.95,869.00 1129.98,864.64 1137.01,869.00 1144.04,869.00 1151.07,869.00 1158.10,869.00 1165.13,869.00 1172.16,869.00 1179.18,869.00 1186.21,869.00 1193.24,869.00 1200.27,869.00 1207.30,869.00 1214.33,869.00 1221.36,869.00 1228.39,869.00 1235.42,869.00 1242.45,869.00 1249.47,869.00 1256.50,857.72 1263.53,869.00 1270.56,869.00 1277.59,869.00 1284.62,869.00 1291.65,869.00 1298.68,869.00 1305.71,854.64 1312.74,789.77 1319.76,869.00 1326.79,869.00 1333.82,869.00 1340.85,869.00 1347.88,869.00 1354.91,869.00 1361.94,869.00 1368.97,869.00 1376.00,869.00 1383.03,869.00 1390.05,869.00 1397.08,869.00 1404.11,869.00 1411.14,836.69 1418.17,869.00 1425.20,869.00 1432.23,869.00 1439.26,869.00 1446.29,869.00 1453.32,789.77 1460.34,869.00 1467.37,869.00 1474.40,869.00 1481.43,869.00 1488.46,869.00 1495.49,869.00 1502.52,869.00 1509.55,869.00 1516.58,869.00 1523.61,834.64 1530.63,869.00 1537.66,869.00 1544.69,869.00 1551.72,869.00 1558.75,869.00 1565.78,841.57 1572.81,869.00 1579.84,869.00 1586.87,869.00 1593.90,825.67 1600.92,869.00 1607.95,869.00 1614.98,869.00 1622.01,869.00 1629.04,869.00 1636.07,869.00 1643.10,869.00 1650.13,869.00 1657.16,869.00 1664.19,869.00 1671.21,869.00 1678.24,830.80 1685.27,869.00 1692.30,869.00 1699.33,869.00 1706.36,869.00 1713.39,869.00 1720.42,869.00 1727.45,869.00 1734.48,869.00 1741.51,869.00 1748.53,869.00 1755.56,869.00 1762.59,869.00 1769.62,868.49 1776.65,869.00 1783.68,869.00 1790.71,869.00 1797.74,869.00 1804.77,869.00 1811.79,869.00 1818.82,869.00 1825.85,869.00 1832.88,869.00 1839.91,869.00 1846.94,841.57 1853.97,869.00 1861.00,869.00 1868.03,869.00 1875.06,869.00 1882.09,869.00 1889.11,869.00 1896.14,869.00 1903.17,869.00 1910.20,869.00 1917.23,869.00 1924.26,869.00 1931.29,869.00 1938.32,869.00 1945.35,869.00 1952.38,869.00 1959.40,869.00 1966.43,869.00 1973.46,869.00 1980.49,869.00 1987.52,861.31" fill="none" stroke="#0abf5b" stroke-width="1.15" stroke-linejoin="round" stroke-linecap="round"/>
<polyline points="722.30,825.67 729.33,763.88 736.36,869.00 743.39,831.57 750.42,743.88 757.44,869.00 764.47,777.72 771.50,869.00 778.53,773.36 785.56,815.67 792.59,791.82 799.62,786.70 806.65,869.00 813.68,759.77 820.71,691.57 827.73,819.77 834.76,869.00 841.79,869.00 848.82,836.18 855.85,869.00 862.88,858.74 869.91,869.00 876.94,793.87 883.97,869.00 891.00,747.98 898.02,785.67 905.05,869.00 912.08,823.62 919.11,869.00 926.14,869.00 933.17,774.90 940.20,749.52 947.23,869.00 954.26,869.00 961.29,785.67 968.31,869.00 975.34,869.00 982.37,869.00 989.40,816.69 996.43,869.00 1003.46,744.90 1010.49,803.87 1017.52,869.00 1024.55,820.80 1031.58,802.85 1038.61,792.85 1045.63,869.00 1052.66,776.18 1059.69,869.00 1066.72,869.00 1073.75,869.00 1080.78,869.00 1087.81,869.00 1094.84,763.88 1101.87,840.80 1108.89,869.00 1115.92,832.59 1122.95,869.00 1129.98,864.64 1137.01,858.74 1144.04,801.31 1151.07,781.82 1158.10,763.88 1165.13,758.75 1172.16,869.00 1179.18,869.00 1186.21,793.36 1193.24,786.70 1200.27,851.56 1207.30,752.85 1214.33,869.00 1221.36,761.82 1228.39,754.39 1235.42,757.98 1242.45,813.62 1249.47,869.00 1256.50,857.72 1263.53,869.00 1270.56,869.00 1277.59,869.00 1284.62,756.18 1291.65,794.64 1298.68,869.00 1305.71,854.64 1312.74,771.82 1319.76,827.72 1326.79,777.72 1333.82,840.80 1340.85,811.82 1347.88,752.85 1354.91,869.00 1361.94,869.00 1368.97,790.29 1376.00,784.90 1383.03,869.00 1390.05,781.82 1397.08,869.00 1404.11,869.00 1411.14,789.77 1418.17,752.34 1425.20,869.00 1432.23,869.00 1439.26,760.80 1446.29,869.00 1453.32,789.77 1460.34,753.88 1467.37,754.90 1474.40,813.62 1481.43,869.00 1488.46,869.00 1495.49,869.00 1502.52,769.77 1509.55,789.77 1516.58,869.00 1523.61,834.64 1530.63,869.00 1537.66,821.82 1544.69,869.00 1551.72,774.90 1558.75,869.00 1565.78,841.57 1572.81,869.00 1579.84,869.00 1586.87,869.00 1593.90,772.85 1600.92,869.00 1607.95,869.00 1614.98,869.00 1622.01,775.41 1629.04,789.77 1636.07,759.77 1643.10,815.67 1650.13,763.88 1657.16,771.82 1664.19,869.00 1671.21,869.00 1678.24,749.77 1685.27,764.90 1692.30,762.34 1699.33,869.00 1706.36,869.00 1713.39,817.72 1720.42,869.00 1727.45,791.82 1734.48,748.24 1741.51,869.00 1748.53,869.00 1755.56,782.34 1762.59,869.00 1769.62,868.49 1776.65,762.34 1783.68,764.39 1790.71,869.00 1797.74,869.00 1804.77,754.90 1811.79,781.82 1818.82,772.85 1825.85,869.00 1832.88,776.18 1839.91,869.00 1846.94,758.24 1853.97,869.00 1861.00,846.69 1868.03,770.29 1875.06,768.75 1882.09,763.36 1889.11,797.72 1896.14,746.18 1903.17,869.00 1910.20,800.80 1917.23,778.49 1924.26,775.93 1931.29,796.70 1938.32,819.77 1945.35,832.59 1952.38,745.93 1959.40,752.85 1966.43,869.00 1973.46,779.52 1980.49,869.00 1987.52,861.31" fill="none" stroke="#e54545" stroke-width="1.15" stroke-linejoin="round" stroke-linecap="round"/>
<polyline points="722.30,859.51 729.33,816.18 736.36,869.00 743.39,857.72 750.42,806.18 757.44,869.00 764.47,850.54 771.50,869.00 778.53,812.85 785.56,859.00 792.59,850.54 799.62,841.57 806.65,869.00 813.68,824.64 820.71,834.13 827.73,858.74 834.76,869.00 841.79,869.00 848.82,840.80 855.85,869.00 862.88,858.74 869.91,869.00 876.94,831.57 883.97,869.00 891.00,773.36 898.02,853.62 905.05,869.00 912.08,823.62 919.11,869.00 926.14,869.00 933.17,824.64 940.20,843.62 947.23,869.00 954.26,869.00 961.29,827.72 968.31,869.00 975.34,869.00 982.37,869.00 989.40,816.69 996.43,869.00 1003.46,802.08 1010.49,845.67 1017.52,869.00 1024.55,849.77 1031.58,837.72 1038.61,853.62 1045.63,869.00 1052.66,788.75 1059.69,869.00 1066.72,869.00 1073.75,869.00 1080.78,869.00 1087.81,869.00 1094.84,837.72 1101.87,864.64 1108.89,869.00 1115.92,832.59 1122.95,869.00 1129.98,864.64 1137.01,866.69 1144.04,847.21 1151.07,833.62 1158.10,847.72 1165.13,808.75 1172.16,869.00 1179.18,869.00 1186.21,831.31 1193.24,827.98 1200.27,860.54 1207.30,847.98 1214.33,869.00 1221.36,808.23 1228.39,847.98 1235.42,850.03 1242.45,860.54 1249.47,869.00 1256.50,857.72 1263.53,869.00 1270.56,869.00 1277.59,869.00 1284.62,824.64 1291.65,845.67 1298.68,869.00 1305.71,854.64 1312.74,780.80 1319.76,860.54 1326.79,838.74 1333.82,857.72 1340.85,859.00 1347.88,839.77 1354.91,869.00 1361.94,869.00 1368.97,840.80 1376.00,846.69 1383.03,869.00 1390.05,827.21 1397.08,869.00 1404.11,869.00 1411.14,811.82 1418.17,820.80 1425.20,869.00 1432.23,869.00 1439.26,832.59 1446.29,869.00 1453.32,789.77 1460.34,836.69 1467.37,846.69 1474.40,851.56 1481.43,869.00 1488.46,869.00 1495.49,869.00 1502.52,831.57 1509.55,843.62 1516.58,869.00 1523.61,834.64 1530.63,869.00 1537.66,859.51 1544.69,869.00 1551.72,815.67 1558.75,869.00 1565.78,841.57 1572.81,869.00 1579.84,869.00 1586.87,869.00 1593.90,799.26 1600.92,869.00 1607.95,869.00 1614.98,869.00 1622.01,807.72 1629.04,840.80 1636.07,827.21 1643.10,855.67 1650.13,816.18 1657.16,820.80 1664.19,869.00 1671.21,869.00 1678.24,790.29 1685.27,837.72 1692.30,826.69 1699.33,869.00 1706.36,869.00 1713.39,843.62 1720.42,869.00 1727.45,841.57 1734.48,828.75 1741.51,869.00 1748.53,869.00 1755.56,840.28 1762.59,869.00 1769.62,868.49 1776.65,831.31 1783.68,849.77 1790.71,869.00 1797.74,869.00 1804.77,844.64 1811.79,850.54 1818.82,837.21 1825.85,869.00 1832.88,828.75 1839.91,869.00 1846.94,806.69 1853.97,869.00 1861.00,857.72 1868.03,827.21 1875.06,848.74 1882.09,855.15 1889.11,848.74 1896.14,842.08 1903.17,869.00 1910.20,835.16 1917.23,846.18 1924.26,833.62 1931.29,854.13 1938.32,855.67 1945.35,856.69 1952.38,827.72 1959.40,835.16 1966.43,869.00 1973.46,824.13 1980.49,869.00 1987.52,861.31" fill="none" stroke="#006eff" stroke-width="1.15" stroke-linejoin="round" stroke-linecap="round"/>
</g>
<line x1="1183.1" y1="482.1" x2="1195.6999999999998" y2="482.1" stroke="#006eff" stroke-width="1.8"/>
<text x="1200.3" y="485.6" style="font-size:9.6px;fill:#666;">总请求数</text>
<line x1="1264.7" y1="482.1" x2="1277.3" y2="482.1" stroke="#0abf5b" stroke-width="1.8"/>
<text x="1281.9" y="485.6" style="font-size:9.6px;fill:#666;">成功请求数</text>
<line x1="1346.1" y1="482.1" x2="1358.6999999999998" y2="482.1" stroke="#e54545" stroke-width="1.8"/>
<text x="1363.3" y="485.6" style="font-size:9.6px;fill:#666;">限流请求数</text>
<line x1="1427.8" y1="482.1" x2="1440.3999999999999" y2="482.1" stroke="#ff7200" stroke-width="1.8"/>
<text x="1445.0" y="485.6" style="font-size:9.6px;fill:#666;">熔断请求数</text>
<line x1="1196.1" y1="905.2" x2="1208.6999999999998" y2="905.2" stroke="#006eff" stroke-width="1.8"/>
<text x="1213.3" y="908.7" style="font-size:9.6px;fill:#666;">均值</text>
<line x1="1258.6" y1="905.2" x2="1271.1999999999998" y2="905.2" stroke="#e54545" stroke-width="1.8"/>
<text x="1275.8" y="908.7" style="font-size:9.6px;fill:#666;">最大值</text>
<line x1="1321.0" y1="905.2" x2="1333.6" y2="905.2" stroke="#0abf5b" stroke-width="1.8"/>
<text x="1338.2" y="908.7" style="font-size:9.6px;fill:#666;">最小值</text>
<line x1="1383.5" y1="905.2" x2="1396.1" y2="905.2" stroke="#ff7200" stroke-width="1.8"/>
<text x="1400.5" y="908.8000000000001" style="font-size:10.2px;fill:#666;">P99</text>
<line x1="1445.9" y1="905.2" x2="1458.5" y2="905.2" stroke="#6e7f9b" stroke-width="1.8"/>
<text x="1462.9" y="908.8000000000001" style="font-size:10.2px;fill:#666;">P95</text></svg>
</body></html>
